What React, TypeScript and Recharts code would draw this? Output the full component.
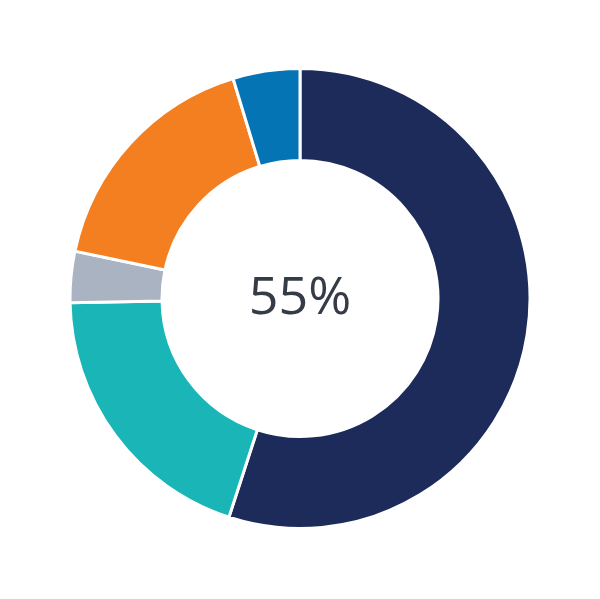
import { PieChart, Pie, Cell } from "recharts";

const segments = ["Navy", "Teal", "Gray", "Orange", "Blue"];
const shares = [55, 19.7, 3.6, 17, 4.7];
const palette = ["#1c2b5a", "#1ab5b6", "#a9b3c1", "#f47f20", "#0474b5"];
const centerLabel = "55%";

const data = segments.map((name, i) => ({ name, value: shares[i] }));

export default function App() {
    return (
        <div style={{ position: "absolute", left: 0, top: 0, width: 600, height: 599, background: "#fff" }}>
            <PieChart width={600} height={599} margin={{ top: 0, right: 0, bottom: 0, left: 0 }}>
                <Pie
                    data={data}
                    dataKey="value"
                    nameKey="name"
                    cx={300}
                    cy={298.5}
                    innerRadius={138}
                    outerRadius={230}
                    startAngle={90}
                    endAngle={-270}
                    stroke="#ffffff"
                    strokeWidth={3}
                    isAnimationActive={false}
                >
                    {data.map((d, i) => (
                        <Cell key={d.name} fill={palette[i]} />
                    ))}
                </Pie>
                <text
                    x={300}
                    y={293}
                    textAnchor="middle"
                    dominantBaseline="central"
                    fontFamily="'Open Sans', sans-serif"
                    fontSize={52}
                    fill="#353c47"
                >
                    {centerLabel}
                </text>
            </PieChart>
        </div>
    );
}
